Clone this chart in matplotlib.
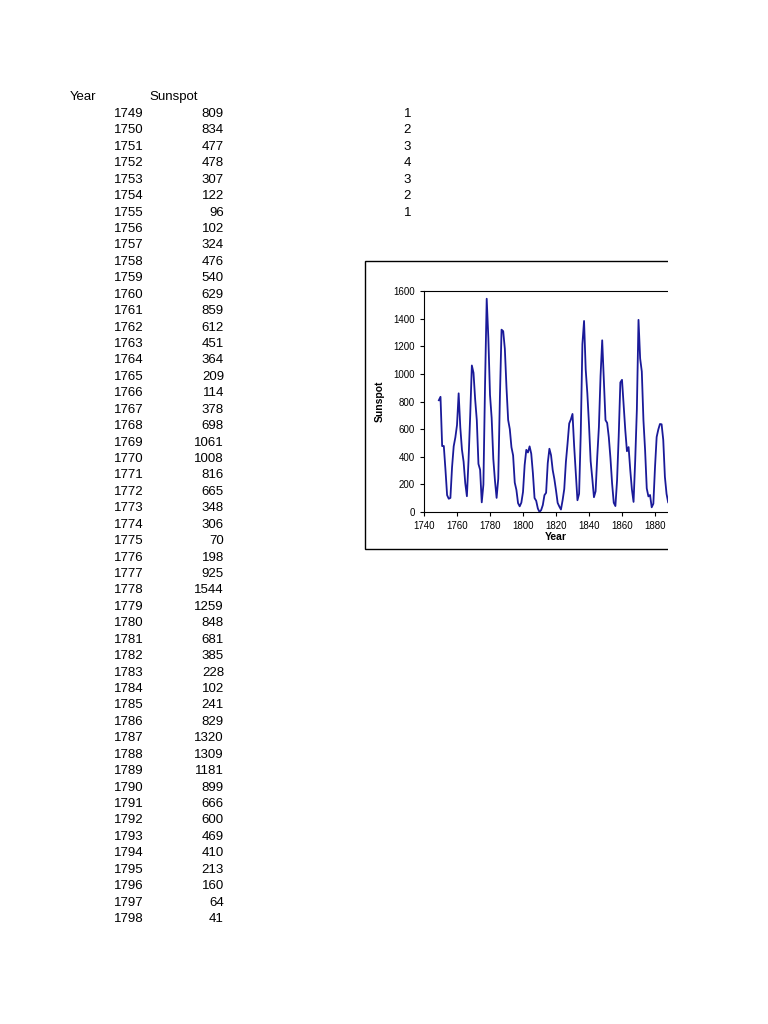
import matplotlib
matplotlib.use("Agg")
import matplotlib.pyplot as plt
from matplotlib.patches import Rectangle

plt.rcParams['font.family'] = ['Liberation Sans', 'DejaVu Sans']

table_years = list(range(1749, 1799))
table_values = [809, 834, 477, 478, 307, 122, 96, 102, 324, 476, 540, 629, 859, 612, 451, 364,
                209, 114, 378, 698, 1061, 1008, 816, 665, 348, 306, 70, 198, 925, 1544, 1259,
                848, 681, 385, 228, 102, 241, 829, 1320, 1309, 1181, 899, 666, 600, 469, 410,
                213, 160, 64, 41]
side_numbers = [1, 2, 3, 4, 3, 2, 1]

extra_years = list(range(1799, 1891))
extra_values = [68, 145, 340, 450, 431, 475, 422, 281, 101, 81, 25, 0, 14, 50, 122, 139, 354, 458,
                411, 304, 239, 157, 66, 40, 18, 85, 166, 363, 496, 641, 670, 710, 478, 275, 85, 132,
                569, 1215, 1383, 1032, 858, 632, 368, 242, 107, 150, 401, 615, 985, 1243, 959, 665,
                645, 542, 390, 206, 67, 43, 228, 548, 938, 957, 772, 591, 440, 470, 305, 163, 73,
                373, 739, 1391, 1111, 1017, 663, 447, 171, 113, 123, 34, 60, 323, 543, 597, 637,
                635, 522, 254, 131, 68, 63, 71]
years = table_years + extra_years
values = table_values + extra_values

W, H = 768, 1024
fig = plt.figure(figsize=(7.68, 10.24), dpi=100)

def fx(px): return px / W
def fy(py): return 1 - py / H

fs = 9.5
fig.text(fx(70), fy(97), "Year", fontsize=fs, va='center')
fig.text(fx(149), fy(97), "Sunspot", fontsize=fs, va='center')
row0, dy = 114, 16.43
for i, (y, v) in enumerate(zip(table_years, table_values)):
    yy = fy(row0 + i * dy)
    fig.text(fx(144), yy, str(y), fontsize=fs, ha='right', va='center')
    fig.text(fx(224), yy, str(v), fontsize=fs, ha='right', va='center')
for i, n in enumerate(side_numbers):
    fig.text(fx(411), fy(row0 + i * dy), str(n), fontsize=fs, ha='right', va='center')

# chart border
fig.patches.append(Rectangle((fx(365), fy(549)), fx(400), fy(261) - fy(549),
                             transform=fig.transFigure, fill=False, edgecolor='black', lw=1))

ax = fig.add_axes([fx(424), fy(512), fx(688) - fx(424), fy(291) - fy(512)])
ax.plot(years, values, color='#1a1a99', lw=1.3)
ax.set_xlim(1740, 1900)
ax.set_ylim(0, 1600)
ax.set_xticks(range(1740, 1901, 20))
ax.set_yticks(range(0, 1601, 200))
ax.tick_params(labelsize=7, length=3, direction='out', width=0.8)
ax.spines['right'].set_visible(False)
for s in ['left', 'bottom', 'top']:
    ax.spines[s].set_linewidth(0.8)
ax.set_xlabel("Year", fontsize=7.5, fontweight='bold', labelpad=1)
ax.set_ylabel("Sunspot", fontsize=7.5, fontweight='bold', labelpad=6)

# page clip on the right
fig.patches.append(Rectangle((fx(668), 0), 1 - fx(668), 1, transform=fig.transFigure,
                             facecolor='white', edgecolor='none', zorder=100))

fig.savefig("out.png", dpi=100)
